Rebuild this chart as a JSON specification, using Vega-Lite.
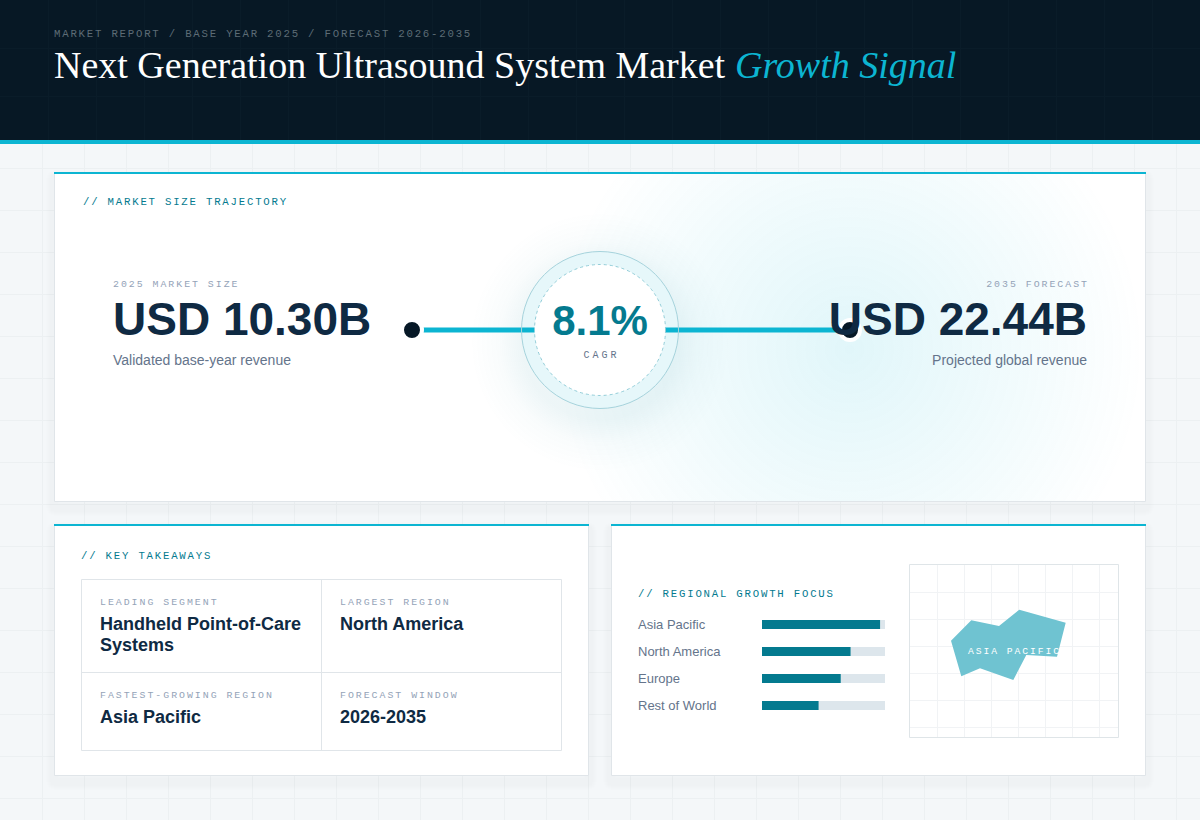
{"$schema":"https://vega.github.io/schema/vega-lite/v6.json","width":1200,"height":820,"padding":0,"autosize":{"type":"none"},"background":"#f4f7f9","view":{"stroke":null},"resolve":{"scale":{"x":"independent","y":"independent","strokeWidth":"independent"}},"layer":[
{"data":{"values":[{"n":1},{"n":2},{"n":3},{"n":4},{"n":5},{"n":6},{"n":7},{"n":8},{"n":9},{"n":10},{"n":11},{"n":12},{"n":13},{"n":14},{"n":15},{"n":16},{"n":17},{"n":18},{"n":19},{"n":20},{"n":21},{"n":22},{"n":23},{"n":24},{"n":25},{"n":26},{"n":27},{"n":28}]},"mark":{"type":"rule","stroke":"#ecf0f2","strokeWidth":1},"encoding":{"x":{"field":"n","type":"ordinal","axis":null,"scale":{"type":"point","padding":0,"range":[42.5,1176.5]}}}},
{"data":{"values":[{"n":4},{"n":5},{"n":6},{"n":7},{"n":8},{"n":9},{"n":10},{"n":11},{"n":12},{"n":13},{"n":14},{"n":15},{"n":16},{"n":17},{"n":18},{"n":19}]},"mark":{"type":"rule","stroke":"#ecf0f2","strokeWidth":1},"encoding":{"y":{"field":"n","type":"ordinal","axis":null,"scale":{"type":"point","padding":0,"range":[168.5,798.5]}}}},
{"data":{"values":[{"panel":"Trajectory","ring":"a"},{"panel":"Trajectory","ring":"b"},{"panel":"Trajectory","ring":"c"},{"panel":"Trajectory","ring":"d"},{"panel":"Trajectory","ring":"e"}]},"mark":{"type":"rect","fill":null,"stroke":"#0a2a3c","strokeOpacity":0.004,"strokeJoin":"round"},"encoding":{"x":{"field":"panel","type":"nominal","axis":null,"scale":{"range":[54,1146],"paddingInner":0,"paddingOuter":0}},"y":{"field":"panel","type":"nominal","axis":null,"scale":{"range":[178,508],"paddingInner":0,"paddingOuter":0}},"strokeWidth":{"field":"ring","type":"nominal","legend":null,"scale":{"domain":["a","b","c","d","e"],"range":[8,16,24,32,40]}}}},
{"data":{"values":[{"panel":"Takeaways","ring":"a"},{"panel":"Takeaways","ring":"b"},{"panel":"Takeaways","ring":"c"},{"panel":"Takeaways","ring":"d"},{"panel":"Takeaways","ring":"e"}]},"mark":{"type":"rect","fill":null,"stroke":"#0a2a3c","strokeOpacity":0.004,"strokeJoin":"round"},"encoding":{"x":{"field":"panel","type":"nominal","axis":null,"scale":{"range":[54,589],"paddingInner":0,"paddingOuter":0}},"y":{"field":"panel","type":"nominal","axis":null,"scale":{"range":[530,782],"paddingInner":0,"paddingOuter":0}},"strokeWidth":{"field":"ring","type":"nominal","legend":null,"scale":{"domain":["a","b","c","d","e"],"range":[8,16,24,32,40]}}}},
{"data":{"values":[{"panel":"Regional","ring":"a"},{"panel":"Regional","ring":"b"},{"panel":"Regional","ring":"c"},{"panel":"Regional","ring":"d"},{"panel":"Regional","ring":"e"}]},"mark":{"type":"rect","fill":null,"stroke":"#0a2a3c","strokeOpacity":0.004,"strokeJoin":"round"},"encoding":{"x":{"field":"panel","type":"nominal","axis":null,"scale":{"range":[611,1146],"paddingInner":0,"paddingOuter":0}},"y":{"field":"panel","type":"nominal","axis":null,"scale":{"range":[530,782],"paddingInner":0,"paddingOuter":0}},"strokeWidth":{"field":"ring","type":"nominal","legend":null,"scale":{"domain":["a","b","c","d","e"],"range":[8,16,24,32,40]}}}},
{"data":{"values":[{"panel":"Trajectory"}]},"mark":{"type":"rect","fill":"#ffffff","stroke":"#e0e5e9","strokeWidth":1},"encoding":{"x":{"field":"panel","type":"nominal","axis":null,"scale":{"range":[54.5,1145.5],"paddingInner":0,"paddingOuter":0}},"y":{"field":"panel","type":"nominal","axis":null,"scale":{"range":[172.5,501.5],"paddingInner":0,"paddingOuter":0}}}},
{"data":{"values":[{"panel":"Trajectory"}]},"mark":{"type":"rect","fill":{"gradient":"radial","x1":0.729,"y1":0.511,"r1":0,"x2":0.729,"y2":0.511,"r2":0.27,"stops":[{"offset":0,"color":"rgba(6,182,212,0.12)"},{"offset":0.3,"color":"rgba(6,182,212,0.085)"},{"offset":0.6,"color":"rgba(6,182,212,0.05)"},{"offset":0.85,"color":"rgba(6,182,212,0.018)"},{"offset":1,"color":"rgba(6,182,212,0)"}]}},"encoding":{"x":{"field":"panel","type":"nominal","axis":null,"scale":{"range":[55,1145],"paddingInner":0,"paddingOuter":0}},"y":{"field":"panel","type":"nominal","axis":null,"scale":{"range":[174,501],"paddingInner":0,"paddingOuter":0}}}},
{"data":{"values":[{"panel":"Takeaways"}]},"mark":{"type":"rect","fill":"#ffffff","stroke":"#e0e5e9","strokeWidth":1},"encoding":{"x":{"field":"panel","type":"nominal","axis":null,"scale":{"range":[54.5,588.5],"paddingInner":0,"paddingOuter":0}},"y":{"field":"panel","type":"nominal","axis":null,"scale":{"range":[524.5,775.5],"paddingInner":0,"paddingOuter":0}}}},
{"data":{"values":[{"panel":"Regional"}]},"mark":{"type":"rect","fill":"#ffffff","stroke":"#e0e5e9","strokeWidth":1},"encoding":{"x":{"field":"panel","type":"nominal","axis":null,"scale":{"range":[611.5,1145.5],"paddingInner":0,"paddingOuter":0}},"y":{"field":"panel","type":"nominal","axis":null,"scale":{"range":[524.5,775.5],"paddingInner":0,"paddingOuter":0}}}},
{"data":{"values":[{"panel":"Trajectory accent"}]},"mark":{"type":"rect","fill":"#0cb5d2"},"encoding":{"x":{"field":"panel","type":"nominal","axis":null,"scale":{"range":[54,1146],"paddingInner":0,"paddingOuter":0}},"y":{"field":"panel","type":"nominal","axis":null,"scale":{"range":[172,174],"paddingInner":0,"paddingOuter":0}}}},
{"data":{"values":[{"panel":"Takeaways accent"}]},"mark":{"type":"rect","fill":"#0cb5d2"},"encoding":{"x":{"field":"panel","type":"nominal","axis":null,"scale":{"range":[54,589],"paddingInner":0,"paddingOuter":0}},"y":{"field":"panel","type":"nominal","axis":null,"scale":{"range":[524,526],"paddingInner":0,"paddingOuter":0}}}},
{"data":{"values":[{"panel":"Regional accent"}]},"mark":{"type":"rect","fill":"#0cb5d2"},"encoding":{"x":{"field":"panel","type":"nominal","axis":null,"scale":{"range":[611,1146],"paddingInner":0,"paddingOuter":0}},"y":{"field":"panel","type":"nominal","axis":null,"scale":{"range":[524,526],"paddingInner":0,"paddingOuter":0}}}},
{"data":{"values":[{"panel":"Header"}]},"mark":{"type":"rect","fill":"#071825"},"encoding":{"x":{"field":"panel","type":"nominal","axis":null,"scale":{"range":[0,1200],"paddingInner":0,"paddingOuter":0}},"y":{"field":"panel","type":"nominal","axis":null,"scale":{"range":[0,140],"paddingInner":0,"paddingOuter":0}}}},
{"data":{"values":[{"panel":"Header accent"}]},"mark":{"type":"rect","fill":"#0cb5d2"},"encoding":{"x":{"field":"panel","type":"nominal","axis":null,"scale":{"range":[0,1200],"paddingInner":0,"paddingOuter":0}},"y":{"field":"panel","type":"nominal","axis":null,"scale":{"range":[140,144],"paddingInner":0,"paddingOuter":0}}}},
{"data":{"values":[{"n":1},{"n":2},{"n":3},{"n":4},{"n":5},{"n":6},{"n":7},{"n":8},{"n":9},{"n":10},{"n":11},{"n":12},{"n":13},{"n":14},{"n":15},{"n":16},{"n":17},{"n":18},{"n":19},{"n":20},{"n":21},{"n":22},{"n":23},{"n":24}]},"mark":{"type":"rule","stroke":"#0a1c29","strokeWidth":1},"encoding":{"x":{"field":"n","type":"ordinal","axis":null,"scale":{"type":"point","padding":0,"range":[48.5,1152.5]}},"y":{"datum":0,"axis":null,"scale":{"domain":[0,1],"range":[0,140]}},"y2":{"datum":1}}},
{"data":{"values":[{"n":1},{"n":2}]},"mark":{"type":"rule","stroke":"#0a1c29","strokeWidth":1},"encoding":{"y":{"field":"n","type":"ordinal","axis":null,"scale":{"type":"point","padding":0,"range":[48.5,96.5]}},"x":{"datum":0,"axis":null,"scale":{"domain":[0,1],"range":[0,1200]}},"x2":{"datum":1}}},
{"data":{"values":[{"slot":"eyebrow","label":"M\u2006A\u2006R\u2006K\u2006E\u2006T\u2006 \u2006R\u2006E\u2006P\u2006O\u2006R\u2006T\u2006 \u2006/\u2006 \u2006B\u2006A\u2006S\u2006E\u2006 \u2006Y\u2006E\u2006A\u2006R\u2006 \u20062\u20060\u20062\u20065\u2006 \u2006/\u2006 \u2006F\u2006O\u2006R\u2006E\u2006C\u2006A\u2006S\u2006T\u2006 \u20062\u20060\u20062\u20066\u2006-\u20062\u20060\u20063\u20065"}]},"mark":{"type":"text","font":"Liberation Mono, DejaVu Sans","fontSize":10.7,"fill":"#5d6c76","align":"left","baseline":"alphabetic"},"encoding":{"x":{"field":"slot","type":"nominal","axis":null,"scale":{"type":"point","range":[54,54]}},"y":{"field":"slot","type":"nominal","axis":null,"scale":{"type":"point","range":[36.5,36.5]}},"text":{"field":"label"}}},
{"data":{"values":[{"slot":"title","label":"Next Generation Ultrasound System Market"}]},"mark":{"type":"text","font":"Liberation Serif","fontSize":38,"fill":"#ffffff","align":"left","baseline":"alphabetic"},"encoding":{"x":{"field":"slot","type":"nominal","axis":null,"scale":{"type":"point","range":[54,54]}},"y":{"field":"slot","type":"nominal","axis":null,"scale":{"type":"point","range":[78,78]}},"text":{"field":"label"}}},
{"data":{"values":[{"slot":"title accent","label":"Growth Signal"}]},"mark":{"type":"text","font":"Liberation Serif","fontSize":38,"fontStyle":"italic","fill":"#0cb5d2","align":"left","baseline":"alphabetic"},"encoding":{"x":{"field":"slot","type":"nominal","axis":null,"scale":{"type":"point","range":[735,735]}},"y":{"field":"slot","type":"nominal","axis":null,"scale":{"type":"point","range":[78,78]}},"text":{"field":"label"}}},
{"data":{"values":[{"slot":"k1","label":"/\u2006/\u2006 \u2006M\u2006A\u2006R\u2006K\u2006E\u2006T\u2006 \u2006S\u2006I\u2006Z\u2006E\u2006 \u2006T\u2006R\u2006A\u2006J\u2006E\u2006C\u2006T\u2006O\u2006R\u2006Y"}]},"mark":{"type":"text","font":"Liberation Mono, DejaVu Sans","fontSize":10.7,"fill":"#047a8f","align":"left","baseline":"alphabetic"},"encoding":{"x":{"field":"slot","type":"nominal","axis":null,"scale":{"type":"point","range":[83,83]}},"y":{"field":"slot","type":"nominal","axis":null,"scale":{"type":"point","range":[204.5,204.5]}},"text":{"field":"label"}}},
{"data":{"values":[{"slot":"k2","label":"/\u2006/\u2006 \u2006K\u2006E\u2006Y\u2006 \u2006T\u2006A\u2006K\u2006E\u2006A\u2006W\u2006A\u2006Y\u2006S"}]},"mark":{"type":"text","font":"Liberation Mono, DejaVu Sans","fontSize":10.7,"fill":"#047a8f","align":"left","baseline":"alphabetic"},"encoding":{"x":{"field":"slot","type":"nominal","axis":null,"scale":{"type":"point","range":[81,81]}},"y":{"field":"slot","type":"nominal","axis":null,"scale":{"type":"point","range":[558.5,558.5]}},"text":{"field":"label"}}},
{"data":{"values":[{"slot":"k3","label":"/\u2006/\u2006 \u2006R\u2006E\u2006G\u2006I\u2006O\u2006N\u2006A\u2006L\u2006 \u2006G\u2006R\u2006O\u2006W\u2006T\u2006H\u2006 \u2006F\u2006O\u2006C\u2006U\u2006S"}]},"mark":{"type":"text","font":"Liberation Mono, DejaVu Sans","fontSize":10.7,"fill":"#047a8f","align":"left","baseline":"alphabetic"},"encoding":{"x":{"field":"slot","type":"nominal","axis":null,"scale":{"type":"point","range":[638,638]}},"y":{"field":"slot","type":"nominal","axis":null,"scale":{"type":"point","range":[596.5,596.5]}},"text":{"field":"label"}}},
{"data":{"values":[{"panel":"CAGR halo"}]},"mark":{"type":"rect","fill":{"gradient":"radial","x1":0.5,"y1":0.5,"r1":0.3,"x2":0.5,"y2":0.5,"r2":0.5,"stops":[{"offset":0,"color":"rgba(4,122,143,0.07)"},{"offset":0.45,"color":"rgba(4,122,143,0.025)"},{"offset":1,"color":"rgba(4,122,143,0)"}]}},"encoding":{"x":{"field":"panel","type":"nominal","axis":null,"scale":{"range":[470,730],"paddingInner":0,"paddingOuter":0}},"y":{"field":"panel","type":"nominal","axis":null,"scale":{"range":[212,472],"paddingInner":0,"paddingOuter":0}}}},
{"data":{"values":[{"metric":"CAGR"}]},"mark":{"type":"point","filled":true,"shape":"circle","size":24649,"fill":"#ffffff","opacity":1},"encoding":{"x":{"field":"metric","type":"nominal","axis":null,"scale":{"type":"point","range":[600,600]}},"y":{"field":"metric","type":"nominal","axis":null,"scale":{"type":"point","range":[330,330]}}}},
{"data":{"values":[{"start":2025,"end":2035,"series":"Market size"}]},"mark":{"type":"rule","stroke":"#0cb5d2","strokeWidth":5},"encoding":{"x":{"field":"start","type":"quantitative","axis":null,"scale":{"domain":[2025,2035],"range":[412,850]}},"x2":{"field":"end"},"y":{"field":"series","type":"nominal","axis":null,"scale":{"type":"point","range":[330,330]}}}},
{"data":{"values":[{"metric":"CAGR"}]},"mark":{"type":"point","filled":true,"shape":"circle","size":24649,"fill":"rgba(12,181,210,0.1)","stroke":"#a6d3dc","strokeWidth":1,"opacity":1},"encoding":{"x":{"field":"metric","type":"nominal","axis":null,"scale":{"type":"point","range":[600,600]}},"y":{"field":"metric","type":"nominal","axis":null,"scale":{"type":"point","range":[330,330]}}}},
{"data":{"values":[{"metric":"CAGR"}]},"mark":{"type":"point","filled":true,"shape":"circle","size":17161,"fill":"#ffffff","stroke":"#92cdd8","strokeWidth":1,"strokeDash":[3,3],"opacity":1},"encoding":{"x":{"field":"metric","type":"nominal","axis":null,"scale":{"type":"point","range":[600,600]}},"y":{"field":"metric","type":"nominal","axis":null,"scale":{"type":"point","range":[330,330]}}}},
{"data":{"values":[{"year":2025,"series":"Market size"},{"year":2035,"series":"Market size"}]},"mark":{"type":"point","filled":true,"shape":"circle","size":400,"fill":"#061826","stroke":"#ffffff","strokeWidth":4,"opacity":1},"encoding":{"x":{"field":"year","type":"quantitative","axis":null,"scale":{"domain":[2025,2035],"range":[412,850]}},"y":{"field":"series","type":"nominal","axis":null,"scale":{"type":"point","range":[330,330]}}}},
{"data":{"values":[{"slot":"m","label":"8.1%"}]},"mark":{"type":"text","font":"Liberation Sans","fontWeight":"bold","fontSize":42,"fill":"#047a8f","align":"center","baseline":"alphabetic"},"encoding":{"x":{"field":"slot","type":"nominal","axis":null,"scale":{"type":"point","range":[600,600]}},"y":{"field":"slot","type":"nominal","axis":null,"scale":{"type":"point","range":[335,335]}},"text":{"field":"label"}}},
{"data":{"values":[{"slot":"c","label":"C\u202fA\u202fG\u202fR"}]},"mark":{"type":"text","font":"Liberation Mono, DejaVu Sans","fontSize":10,"fill":"#64748b","align":"center","baseline":"alphabetic"},"encoding":{"x":{"field":"slot","type":"nominal","axis":null,"scale":{"type":"point","range":[600,600]}},"y":{"field":"slot","type":"nominal","axis":null,"scale":{"type":"point","range":[357.5,357.5]}},"text":{"field":"label"}}},
{"data":{"values":[{"slot":"a","label":"2\u20090\u20092\u20095\u2009 \u2009M\u2009A\u2009R\u2009K\u2009E\u2009T\u2009 \u2009S\u2009I\u2009Z\u2009E"}]},"mark":{"type":"text","font":"Liberation Mono, DejaVu Sans","fontSize":9.9,"fill":"#94a3b8","align":"left","baseline":"alphabetic"},"encoding":{"x":{"field":"slot","type":"nominal","axis":null,"scale":{"type":"point","range":[113,113]}},"y":{"field":"slot","type":"nominal","axis":null,"scale":{"type":"point","range":[286.5,286.5]}},"text":{"field":"label"}}},
{"data":{"values":[{"slot":"a","label":"USD 10.30B"}]},"mark":{"type":"text","font":"Liberation Sans","fontWeight":"bold","fontSize":46,"fill":"#0f2a43","align":"left","baseline":"alphabetic"},"encoding":{"x":{"field":"slot","type":"nominal","axis":null,"scale":{"type":"point","range":[113,113]}},"y":{"field":"slot","type":"nominal","axis":null,"scale":{"type":"point","range":[335,335]}},"text":{"field":"label"}}},
{"data":{"values":[{"slot":"a","label":"Validated base-year revenue"}]},"mark":{"type":"text","font":"Liberation Sans","fontSize":14,"fill":"#64748b","align":"left","baseline":"alphabetic"},"encoding":{"x":{"field":"slot","type":"nominal","axis":null,"scale":{"type":"point","range":[113,113]}},"y":{"field":"slot","type":"nominal","axis":null,"scale":{"type":"point","range":[365,365]}},"text":{"field":"label"}}},
{"data":{"values":[{"slot":"b","label":"2\u20090\u20093\u20095\u2009 \u2009F\u2009O\u2009R\u2009E\u2009C\u2009A\u2009S\u2009T"}]},"mark":{"type":"text","font":"Liberation Mono, DejaVu Sans","fontSize":9.9,"fill":"#94a3b8","align":"right","baseline":"alphabetic"},"encoding":{"x":{"field":"slot","type":"nominal","axis":null,"scale":{"type":"point","range":[1087,1087]}},"y":{"field":"slot","type":"nominal","axis":null,"scale":{"type":"point","range":[286.5,286.5]}},"text":{"field":"label"}}},
{"data":{"values":[{"slot":"b","label":"USD 22.44B"}]},"mark":{"type":"text","font":"Liberation Sans","fontWeight":"bold","fontSize":46,"fill":"#0f2a43","align":"right","baseline":"alphabetic"},"encoding":{"x":{"field":"slot","type":"nominal","axis":null,"scale":{"type":"point","range":[1087,1087]}},"y":{"field":"slot","type":"nominal","axis":null,"scale":{"type":"point","range":[335,335]}},"text":{"field":"label"}}},
{"data":{"values":[{"slot":"b","label":"Projected global revenue"}]},"mark":{"type":"text","font":"Liberation Sans","fontSize":14,"fill":"#64748b","align":"right","baseline":"alphabetic"},"encoding":{"x":{"field":"slot","type":"nominal","axis":null,"scale":{"type":"point","range":[1087,1087]}},"y":{"field":"slot","type":"nominal","axis":null,"scale":{"type":"point","range":[365,365]}},"text":{"field":"label"}}},
{"data":{"values":[{"panel":"Takeaway table"}]},"mark":{"type":"rect","fill":null,"stroke":"#e0e5e9","strokeWidth":1},"encoding":{"x":{"field":"panel","type":"nominal","axis":null,"scale":{"range":[81.5,561.5],"paddingInner":0,"paddingOuter":0}},"y":{"field":"panel","type":"nominal","axis":null,"scale":{"range":[579.5,750.5],"paddingInner":0,"paddingOuter":0}}}},
{"data":{"values":[{"divider":"columns"}]},"mark":{"type":"rule","stroke":"#e0e5e9","strokeWidth":1},"encoding":{"x":{"field":"divider","type":"nominal","axis":null,"scale":{"type":"point","range":[321.5,321.5]}},"y":{"datum":0,"axis":null,"scale":{"domain":[0,1],"range":[580,750]}},"y2":{"datum":1}}},
{"data":{"values":[{"divider":"rows"}]},"mark":{"type":"rule","stroke":"#e0e5e9","strokeWidth":1},"encoding":{"y":{"field":"divider","type":"nominal","axis":null,"scale":{"type":"point","range":[672.5,672.5]}},"x":{"datum":0,"axis":null,"scale":{"domain":[0,1],"range":[82,561]}},"x2":{"datum":1}}},
{"data":{"values":[{"column":"left","row":"top","label":"L\u2009E\u2009A\u2009D\u2009I\u2009N\u2009G\u2009 \u2009S\u2009E\u2009G\u2009M\u2009E\u2009N\u2009T"},{"column":"right","row":"top","label":"L\u2009A\u2009R\u2009G\u2009E\u2009S\u2009T\u2009 \u2009R\u2009E\u2009G\u2009I\u2009O\u2009N"},{"column":"left","row":"bottom","label":"F\u2009A\u2009S\u2009T\u2009E\u2009S\u2009T\u2009-\u2009G\u2009R\u2009O\u2009W\u2009I\u2009N\u2009G\u2009 \u2009R\u2009E\u2009G\u2009I\u2009O\u2009N"},{"column":"right","row":"bottom","label":"F\u2009O\u2009R\u2009E\u2009C\u2009A\u2009S\u2009T\u2009 \u2009W\u2009I\u2009N\u2009D\u2009O\u2009W"}]},"mark":{"type":"text","font":"Liberation Mono, DejaVu Sans","fontSize":9.9,"fill":"#94a3b8","align":"left","baseline":"alphabetic"},"encoding":{"x":{"field":"column","type":"nominal","axis":null,"scale":{"type":"point","domain":["left","right"],"padding":0,"range":[100,340]}},"y":{"field":"row","type":"nominal","axis":null,"scale":{"type":"point","domain":["top","bottom"],"padding":0,"range":[604.5,697.5]}},"text":{"field":"label"}}},
{"data":{"values":[{"column":"left","row":"top","label":"Handheld Point-of-Care\nSystems"},{"column":"right","row":"top","label":"North America"},{"column":"left","row":"bottom","label":"Asia Pacific"},{"column":"right","row":"bottom","label":"2026-2035"}]},"mark":{"type":"text","font":"Liberation Sans","fontWeight":"bold","fontSize":18,"lineBreak":"\n","lineHeight":21,"fill":"#0f2a43","align":"left","baseline":"alphabetic"},"encoding":{"x":{"field":"column","type":"nominal","axis":null,"scale":{"type":"point","domain":["left","right"],"padding":0,"range":[100,340]}},"y":{"field":"row","type":"nominal","axis":null,"scale":{"type":"point","domain":["top","bottom"],"padding":0,"range":[630,723]}},"text":{"field":"label"}}},
{"data":{"name":"regions","values":[{"region":"Asia Pacific","share":96,"full":100},{"region":"North America","share":72,"full":100},{"region":"Europe","share":64,"full":100},{"region":"Rest of World","share":46,"full":100}]},"mark":{"type":"bar","fill":"#dde6ec","cornerRadius":0},"encoding":{"x":{"field":"full","type":"quantitative","axis":null,"scale":{"domain":[0,100],"range":[762,885]}},"y":{"field":"region","type":"nominal","sort":null,"axis":null,"scale":{"range":[611,719],"paddingInner":0.6667,"paddingOuter":0.3333}}}},
{"data":{"name":"regions"},"mark":{"type":"bar","fill":"#047a8f"},"encoding":{"x":{"field":"share","type":"quantitative","axis":null,"scale":{"domain":[0,100],"range":[762,885]}},"y":{"field":"region","type":"nominal","sort":null,"axis":null,"scale":{"range":[611,719],"paddingInner":0.6667,"paddingOuter":0.3333}}}},
{"data":{"name":"regions"},"mark":{"type":"text","font":"Liberation Sans","fontSize":13,"fill":"#64748b","align":"left","baseline":"middle"},"encoding":{"x":{"datum":0,"axis":null,"scale":{"domain":[0,1],"range":[638,700]}},"y":{"field":"region","type":"nominal","sort":null,"axis":null,"scale":{"range":[611,719],"paddingInner":0.6667,"paddingOuter":0.3333}},"text":{"field":"region"}}},
{"data":{"values":[{"panel":"Map"}]},"mark":{"type":"rect","fill":"#ffffff","stroke":"#dfe5e8","strokeWidth":1},"encoding":{"x":{"field":"panel","type":"nominal","axis":null,"scale":{"range":[909.5,1118.5],"paddingInner":0,"paddingOuter":0}},"y":{"field":"panel","type":"nominal","axis":null,"scale":{"range":[564.5,737.5],"paddingInner":0,"paddingOuter":0}}}},
{"data":{"values":[{"n":1},{"n":2},{"n":3},{"n":4},{"n":5},{"n":6},{"n":7}]},"mark":{"type":"rule","stroke":"#f1f3f5","strokeWidth":1},"encoding":{"x":{"field":"n","type":"ordinal","axis":null,"scale":{"type":"point","padding":0,"range":[937.5,1099.5]}},"y":{"datum":0,"axis":null,"scale":{"domain":[0,1],"range":[565,737]}},"y2":{"datum":1}}},
{"data":{"values":[{"n":1},{"n":2},{"n":3},{"n":4},{"n":5},{"n":6}]},"mark":{"type":"rule","stroke":"#f1f3f5","strokeWidth":1},"encoding":{"y":{"field":"n","type":"ordinal","axis":null,"scale":{"type":"point","padding":0,"range":[592.5,727.5]}},"x":{"datum":0,"axis":null,"scale":{"domain":[0,1],"range":[910,1118]}},"x2":{"datum":1}}},
{"data":{"values":[{"type":"Feature","properties":{"name":"Asia Pacific"},"geometry":{"type":"Polygon","coordinates":[[[42,76.7],[62.3,56.3],[90,62],[110.3,45.7],[156.7,58.7],[148,92.7],[117.3,91],[104.3,116],[71,104.3],[52.3,112.3],[42,76.7]]]}}]},"projection":{"type":"identity","scale":1,"translate":[909,564]},"mark":{"type":"geoshape","fill":"#6fc3d1","stroke":null}},
{"data":{"values":[{"slot":"map","label":"A\u2009S\u2009I\u2009A\u2009 \u2009P\u2009A\u2009C\u2009I\u2009F\u2009I\u2009C"}]},"mark":{"type":"text","font":"Liberation Mono, DejaVu Sans","fontSize":9.7,"fill":"#ffffff","align":"left","baseline":"alphabetic"},"encoding":{"x":{"field":"slot","type":"nominal","axis":null,"scale":{"type":"point","range":[968,968]}},"y":{"field":"slot","type":"nominal","axis":null,"scale":{"type":"point","range":[653.5,653.5]}},"text":{"field":"label"}}}
]}
